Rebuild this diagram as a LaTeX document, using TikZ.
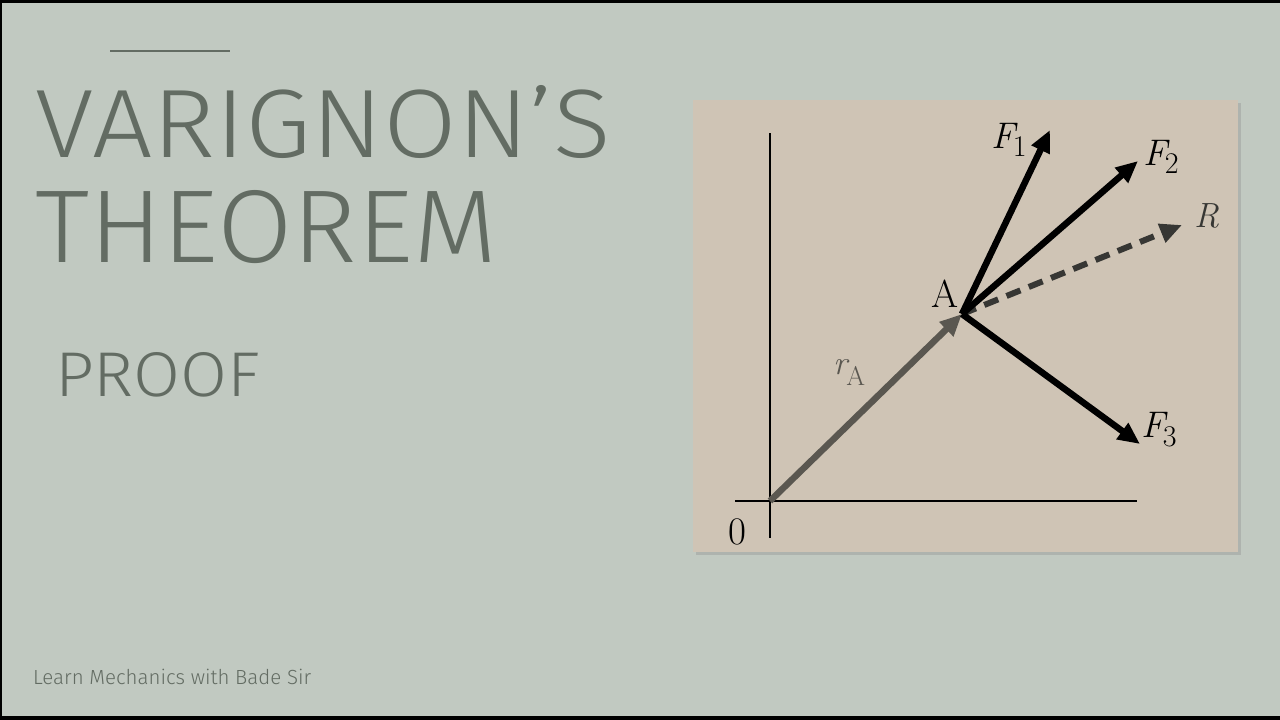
\documentclass[tikz,border=0pt]{standalone}
\usepackage{fontspec}
\usetikzlibrary{arrows.meta}
\IfFontExistsTF{Fira Sans Light}{\newfontfamily\titlefont{Fira Sans Light}}{%
  \IfFontExistsTF{Lato Light}{\newfontfamily\titlefont{Lato Light}}{\newfontfamily\titlefont{Fira Sans}}}
\definecolor{bgc}{RGB}{193,201,193}
\definecolor{panelc}{RGB}{207,196,181}
\definecolor{titlec}{RGB}{99,108,99}
\definecolor{rac}{RGB}{90,87,80}
\definecolor{resc}{RGB}{55,55,52}
\tikzset{
  force/.style={line width=6.5pt, black, -{Triangle[length=22pt,width=19pt]}},
  posvec/.style={line width=6.5pt, rac, -{Triangle[length=22pt,width=19pt]}},
  resvec/.style={line width=6pt, resc, dash pattern=on 15pt off 9pt, -{Triangle[length=22pt,width=19pt]}},
  axis/.style={line width=1.8pt, black},
  lbl/.style={anchor=base west, inner sep=0pt},
  ttl/.style={anchor=base west, inner sep=0pt, text=titlec, font=\titlefont},
}
\newcommand{\bigf}{\fontsize{37}{40}\selectfont\itshape}
\newcommand{\subf}{\fontsize{30}{32}\selectfont\upshape}
\begin{document}
\begin{tikzpicture}[x=1pt,y=-1pt]
\useasboundingbox (0,0) rectangle (1280,720);
\fill[black] (0,0) rectangle (1280,720);
\fill[bgc] (2,3) rectangle (1280,716);
% title block
\draw[titlec, line width=2pt] (110,51) -- (230,51);
\node[ttl] (t1) at (35,157) {\resizebox{575pt}{72pt}{VARIGNON’S}};
\node[ttl] (t2) at (35,262) {\resizebox{462pt}{72pt}{THEOREM}};
\node[ttl] (t3) at (55,396) {\resizebox{205pt}{44pt}{PROOF}};
\node[ttl] (t4) at (33,684) {\resizebox{278pt}{!}{\fontsize{19}{22}\selectfont Learn Mechanics with Bade Sir}};
% panel
\fill[black!45, opacity=0.35] (696,103) rectangle (1241,555);
\fill[panelc] (693,100) rectangle (1238,552);
% axes
\coordinate (ytop) at (770,133);
\coordinate (ybot) at (770,538);
\coordinate (xl) at (735,501);
\coordinate (xr) at (1137,501);
\draw[axis] (ytop) -- (ybot);
\draw[axis] (xl) -- (xr);
% points
\coordinate (O) at (770,501);
\coordinate (A) at (962,314);
\coordinate (F1t) at (1050,130);
\coordinate (F2t) at (1138,161);
\coordinate (Rt) at (1182,225);
\coordinate (F3t) at (1140,444);
\draw[posvec] (O) -- (A);
\draw[resvec] (A) -- (Rt);
\draw[force] (A) -- (F1t);
\draw[force] (A) -- (F2t);
\draw[force] (A) -- (F3t);
% labels
\node[lbl, font=\fontsize{39}{42}\selectfont] (lO) at (728,544) {0};
\node[lbl, font=\fontsize{39}{42}\selectfont] (lA) at (931,307) {A};
\node[lbl, text=rac] (lr) at (833,374) {{\fontsize{34}{36}\selectfont\itshape r}\hspace{-1pt}\raisebox{-11pt}{\fontsize{27}{30}\selectfont A}};
\node[lbl] (l1) at (991,148) {{\bigf F}\hspace{-2pt}\raisebox{-8pt}{\subf 1}};
\node[lbl] (l2) at (1143,165) {{\bigf F}\hspace{-2pt}\raisebox{-8pt}{\subf 2}};
\node[lbl, text=resc] (lR) at (1194,227) {\fontsize{35}{38}\selectfont\itshape R};
\node[lbl] (l3) at (1141,437) {{\bigf F}\hspace{-2pt}\raisebox{-9pt}{\subf 3}};
\end{tikzpicture}
\end{document}
